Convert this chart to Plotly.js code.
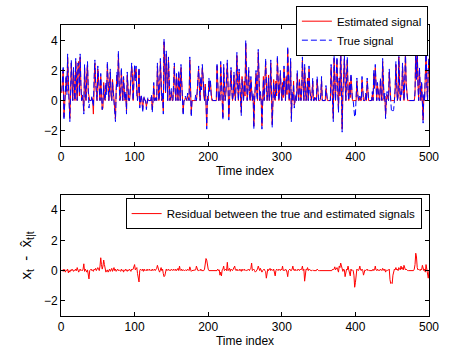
<!DOCTYPE html>
<html>
<head>
<meta charset="utf-8">
<script src="https://cdn.plot.ly/plotly-3.0.1.min.js"></script>
<style>html,body{margin:0;padding:0;background:#fff}#chart{width:474px;height:355px}</style>
</head>
<body>
<div id="chart"></div>
<script>
const trueSignal = [
0.6,1.4,2.3,-1.3,0,0.9,1.7,0.4,3.1,1.2,0,-1.4,0.5,2.7,1.1,0,2.2,0.6,0,2.8,
1.3,0,2.5,2.4,0.5,3.1,1.0,0,0.4,0,-0.9,2.4,0.7,0,1.5,2.6,0.8,-0.5,0,0,
0,0.3,0,-0.4,1.6,2.7,1.2,0.4,0,2.3,1.3,0.6,0,1.8,0.5,-0.6,0,1.0,0.3,0,
1.2,0.4,2.6,1.3,0,0.8,2.1,0.5,0,1.2,0.4,0,-0.5,-1.4,0.6,1.9,0.9,3.3,1.1,0,
0.3,2.2,0.8,0,1.6,0.4,0,0.6,-0.9,1.9,0.5,0,0,0.6,1.4,2.5,1.6,0,1.1,2.4,
1.3,2.3,0.4,0,0.7,2.2,-0.5,0,0.4,0,-0.8,0,0.3,0,0,-0.6,0,0.2,0,0,
0,0,0.4,-0.8,0,1.2,0,0,0.3,0,2.5,1.1,0,0.6,2.8,1.3,0,0.5,-0.9,4.1,
1.4,0.6,3.3,0.9,0,2.9,1.2,0,0.3,0.8,0,0,1.2,2.5,0.7,0,1.8,0.4,0,2.0,
0.6,0,2.4,0.8,0,-1.0,0,0,0.3,0,0,0.5,0,0,2.9,1.0,-1.1,0,0,0,
0,0,0.4,0,0.6,1.2,2.3,0.8,0,1.6,0.7,2.4,1.4,0.5,0,0.9,0,-1.9,0.3,0,
1.5,0.6,1.4,0.3,0,0,0,0,0,0,0,2.5,1.3,0,0.6,0,2.6,0.9,0,-1.3,
2.4,1.0,0,0.6,1.3,2.7,0.8,-1.3,0,1.1,2.2,0.7,0,0.5,1.9,0.4,0,1.2,3.2,1.0,
0,2.1,0.6,0,-1.0,1.4,0.3,0,1.1,0.5,4.0,1.3,0,0.7,2.2,0.4,0,1.6,0.3,0,
0.5,-1.9,0,0.8,2.0,0.4,0,3.4,1.0,0,0.6,0,-1.9,0.3,1.4,0,0.8,2.8,1.1,0,
0.4,1.5,0,0.6,2.7,0.9,-1.8,0,1.2,0.4,0,1.1,0.5,3.0,1.3,0,0.6,2.0,0.8,0,
1.0,0.4,2.3,0.7,0,1.4,0.6,3.6,1.2,0,0.8,2.8,-1.4,0.6,0,1.1,-0.5,0,0.4,0,
2.0,0.6,0,1.2,0.3,0,0.7,2.9,1.0,0,2.4,0.8,0,0.5,1.3,0,2.3,0.6,0,0,
0.4,1.5,0,0,0.3,0,0,1.6,0.2,0,0,0,0.4,1.6,0,0,0,0,0,1.0,
0,0,0,0,0,0,2.4,1.2,0,-1.4,3.0,0.9,0,1.6,2.9,0.6,-0.8,1.3,0.5,3.9,
1.4,-2.1,0.7,1.2,3.0,0.8,0,1.4,2.9,0.6,0,1.0,0.4,1.8,0.5,0,0,-0.8,-1.1,-1.0,
0,1.5,0.4,0,0,0.3,0,0,1.6,0.4,0,0,0,0.5,0,1.5,0.3,0,0,0,
0,0,0.6,0,2.0,0.8,2.4,0.5,0,1.2,0.4,0,0,1.5,0.4,0,2.8,1.1,0,0.5,
-1.2,0,0.6,0.3,0,2.1,0.5,0,-0.7,-0.6,-0.7,-0.6,0,0.8,2.6,1.0,0,0.4,3.1,1.1,
0,0.6,0.3,2.5,0.8,0,1.2,3.3,1.0,0,0,0,0,0,0,0,0,0,0,0,
0.6,3.6,1.4,3.7,0.9,0,2.2,0.6,0,1.3,0,-1.5,0.5,0,1.8,3.7,1.0,0,2.1,3.0
];

const estimatedSignal = [
0.5,1.6,2.1,-1.1,0,1.1,1.5,0.6,2.9,1.4,0,-1.2,0.4,2.5,1.3,0,2.0,0.8,0,2.6,
1.5,0,2.3,2.6,0.3,2.9,1.2,0,0.2,0,-0.7,2.2,0.9,0,1.7,2.4,0.6,0,0,0,
0,0.2,0,-0.9,1.4,2.5,1.4,0.3,0,2.1,1.5,0.4,0,1.6,0.7,-0.6,-0.5,1.2,0.2,0,
1.0,0.6,2.4,1.5,0,1.0,1.9,0.3,0,1.4,0.6,0,-0.4,-1.2,0.8,1.7,1.1,3.1,1.3,0,
0.2,2.0,1.0,0,1.4,0.6,0,0.4,-0.7,1.7,0.7,0,0,0.4,1.6,2.3,1.8,0,1.3,2.2,
1.5,2.1,0.6,0,0.9,2.0,-0.3,0,0.3,0,-0.6,0,0.2,0,0,-0.4,0,0.1,0,0,
0,0,0.3,-0.6,0,1.0,0,0,0.2,0,2.3,1.3,0,0.4,2.6,1.5,0,0.3,-0.7,3.9,
1.6,0.5,3.1,1.1,0,2.7,1.4,0,0.2,0.6,0,0,1.0,2.3,0.9,0,1.6,0.6,0,1.8,
0.4,0,2.2,1.0,0,-0.8,0,0,0.2,0,0,0.3,0,0,2.7,1.2,-0.9,0,0,0,
0,0,0,0,0.5,1.4,2.1,1.0,0,1.4,0.9,2.2,1.6,0.3,0,1.1,0,-1.7,0.2,0,
1.3,0.8,1.2,0.2,0,0,0,0,0,0,0,2.3,1.5,0,0.4,0,2.4,1.1,0,-1.1,
2.2,1.2,0,0.4,1.5,2.5,1.0,-1.1,0,1.3,2.0,0.9,0,0.3,1.7,0.6,0,1.4,3.0,1.2,
0,1.9,0.8,0,-0.8,1.6,0.2,0,1.3,0.3,3.8,1.5,0,0.9,2.0,0.6,0,1.4,0.5,0,
0.3,-1.7,0,1.0,1.8,0.6,0,3.2,1.2,0,0.4,0,-1.7,0.2,1.6,0,1.0,2.6,1.3,0,
0.3,1.7,0,0.4,2.5,1.1,-1.6,0,1.4,0.2,0,1.3,0.3,2.8,1.5,0,0.8,1.8,1.0,0,
1.2,0.2,2.1,0.9,0,1.6,0.4,3.4,1.4,0,1.0,2.6,-1.2,0.4,0,1.3,-0.3,0,0.3,0,
1.8,0.8,0,1.4,0.2,0,0.5,2.7,1.2,0,2.2,1.0,0,0.3,1.5,0,2.1,0.8,0,0,
0.3,1.3,0,0,0.2,0,0,1.4,0.1,0,0,0,0.3,1.4,0,0,0,0,0,0.8,
0,0,0,0,0,0,2.2,1.4,0,-1.2,2.8,1.1,0,1.8,2.7,0.8,-0.6,1.5,0.3,3.7,
1.6,-1.9,0.5,1.4,2.8,1.0,0,1.6,2.7,0.8,0,1.2,0.2,1.6,0.7,0,0,0,0,0,
0,1.3,0.6,0,0,0.2,0,0,1.4,0.6,0,0,0,0.4,0,1.3,0.5,0,0,0,
0,0,0.4,0,1.8,1.0,2.2,0.7,0,1.0,0.6,0,0,1.3,0.6,0,2.6,1.3,0,0.3,
-1.0,0,0.4,0.2,0,1.9,0.7,0,0,0,0,0,0,0.6,2.4,1.2,0,0.2,2.9,1.3,
0,0.4,0.5,2.3,1.0,0,1.0,3.1,1.2,0,0,0,0,0,0,0,0,0,0,0,
0.4,3.4,1.6,3.5,1.1,0,2.0,0.8,0,1.1,0,-1.3,0.3,0,1.6,3.5,1.2,0,1.9,2.8
];

const residual = [
0,0.05,-0.05,0.1,0,-0.1,0.05,0,0.1,-0.15,0,-0.1,0.05,0,0.1,0,-0.05,0.05,0,0.1,
0,0.2,0.05,-0.1,0,0.1,0,0.05,0,0.1,0.45,-0.05,0.1,0,-0.1,0.05,-0.2,-0.55,0,0.05,
0.1,0,0.05,-0.05,0.1,0.05,0.15,0,0.1,0.2,0.1,0,0.3,0.85,0.4,0.1,0.3,0.7,0.4,0.1,
-0.1,0,0.05,-0.1,0,0.1,-0.05,0.05,0.15,-0.05,0.1,0.2,0,0.1,-0.05,0.05,0.1,0,0.05,0,
-0.05,0.1,0,0.05,-0.1,0.05,0,0.1,0,-0.05,0.05,0,0.1,0,-0.05,0.1,0.05,0.1,0.2,0.4,
0.05,0.1,0.2,-0.2,-0.4,-0.75,0,0.1,0.05,0,0.1,-0.05,0.1,0,0.05,0,0.1,0,0.05,0.1,
0,0.05,0,0.1,0,0.05,0.1,0,0.05,0.15,0.35,0.1,0,-0.1,0.1,0.2,0,0.1,-0.2,-0.4,
-0.35,0,0.1,0,0.05,0.1,0,0.05,0,0.1,0.05,0,0.1,0.05,0,0.1,0,0.05,0.15,0,
0.3,0.05,0,0.1,0,0.05,0,0,0.05,0,0,0.1,0,0,0.25,0.05,-0.05,0,0,0,
0,0,0.05,0.3,0.05,0,0,0.05,0,0.1,0,0,0,0,0.1,0.4,0.8,0.7,0.3,0.1,
0,0,0,0,0,0,0,0,0,0.05,0,0,0.1,0,0.05,-0.3,-0.1,-0.35,0.05,0.1,
0.3,0,0.05,0.1,0,0.55,0,0.1,0.15,-0.05,0.1,0.05,0,0.1,0.2,0.3,0.05,0,0.1,0,
0.05,0,0.1,0,-0.05,0.1,0,0.05,0.1,0,0.05,0,0,0.05,0.1,0,0.1,0.15,0.5,0,
0.05,0.1,0,-0.1,-0.05,0,0.1,0.3,0.05,0,0.15,0.05,-0.1,0,0.05,0.1,0,-0.05,-0.5,0,
0.1,0,0.05,0.15,0,0.1,0.05,0,0.1,-0.1,-0.35,0,0.1,0.05,0,0.1,0.05,0,0.1,0.05,
0.3,0,0.05,0,0.1,0.05,-0.1,-0.4,0,0.05,0.1,0,0,0.1,0.3,0.05,0,0.1,0,0.05,
0,0.1,0.05,0,0.1,0.05,0.1,0.3,0,0.1,-0.7,0,0.1,0.05,0.2,0,0.1,0.05,0,0,
0,0.05,0,0,0.05,0,0,0.1,0,0,0,0,0,0.05,0,0,0,0,0,0,
0,0,0,0,0,0,0.05,0,0.1,0.05,0.1,0.25,0.05,0.1,0.2,0.05,-0.1,0.3,0.2,0.5,
0.25,0.1,-0.05,0.1,0.05,-0.4,0,0.1,0.05,0.3,0.05,-0.1,-0.35,0.1,0,0.05,0,-0.3,-1.1,-0.8,
-0.2,0.1,0.05,0,0.1,0.3,0.05,0,0.1,0,-0.3,0,0.05,0,0.05,0.1,0,0.05,0,0,
0,0.05,0,0.1,0,0.05,0.3,0.05,0,0.1,0,0.05,0,0.1,0.05,0,0.15,0.05,0,0.1,
-0.1,0,0.05,0,0.05,0.1,-0.6,-0.85,-0.8,-0.85,-0.3,0,0.1,0.05,0.2,0.05,0.1,0,0.2,0.1,
0.05,0.3,0.1,0.2,0.05,0.35,0.1,0.05,0.1,0,0,0,0,0,0,0,0,0,0,0.1,
0.4,1.15,0.9,0.2,0.05,0.1,0.05,0,0.1,0.05,0.35,0.1,0,0.1,-0.1,0.4,0.1,0.05,-0.5,0
];

const timeIndex = trueSignal.map((_, i) => i + 1);
const xTicks = [0, 100, 200, 300, 400, 500];
const yTicks = [-2, 0, 2, 4];

const FONT = 'Liberation Sans, Arial, Helvetica, sans-serif';
const FS = 11.5;

const traces = [
  {x: timeIndex, y: estimatedSignal, type: 'scatter', mode: 'lines', name: 'Estimated signal',
   line: {color: '#ff0000', width: 1}, xaxis: 'x', yaxis: 'y', legend: 'legend'},
  {x: timeIndex, y: trueSignal, type: 'scatter', mode: 'lines', name: 'True signal',
   line: {color: '#0000ff', width: 1, dash: '6px,3px'}, xaxis: 'x', yaxis: 'y', legend: 'legend'},
  {x: timeIndex, y: residual, type: 'scatter', mode: 'lines', name: 'Residual between the true and estimated signals',
   line: {color: '#ff0000', width: 1}, xaxis: 'x2', yaxis: 'y2', legend: 'legend2'}
];

function xAxis(anchor) {
  return {
    domain: [0, 1], range: [0, 500], anchor: anchor,
    tickmode: 'array', tickvals: xTicks, ticktext: xTicks.map(String),
    ticks: 'inside', ticklen: 4, tickcolor: '#000', mirror: 'allticks',
    showline: true, linecolor: '#000', linewidth: 1, showgrid: false, zeroline: false,
    tickfont: {family: FONT, size: FS + 0.5, color: '#000'},
    title: {text: 'Time index', font: {family: FONT, size: FS + 0.5, color: '#000'}, standoff: 3}
  };
}
function yAxis(anchor, domain, title) {
  const ax = {
    domain: domain, range: [-3, 5], anchor: anchor,
    tickmode: 'array', tickvals: yTicks, ticktext: yTicks.map(v => v < 0 ? '\u2212' + Math.abs(v) : String(v)),
    ticks: 'inside', ticklen: 4, tickcolor: '#000', mirror: 'allticks',
    showline: true, linecolor: '#000', linewidth: 1, showgrid: false, zeroline: false,
    tickfont: {family: FONT, size: FS + 0.5, color: '#000'}
  };
  if (title) ax.title = {text: title, font: {family: FONT, size: 15, color: '#000'}, standoff: 8};
  return ax;
}

const layout = {
  width: 474, height: 355,
  margin: {l: 61, r: 45, t: 0, b: 0},
  paper_bgcolor: '#fff', plot_bgcolor: '#fff',
  showlegend: true,
  xaxis: xAxis('y'),
  yaxis: yAxis('x', [0.5896, 0.9287]),
  xaxis2: xAxis('y2'),
  yaxis2: yAxis('x2', [0.1099, 0.4507], 'x<sub>t</sub>\u00a0\u00a0-\u00a0\u00a0x\u0302<sub>t|t</sub>'),
  legend: {x: 0.997, y: 0.984, xanchor: 'right', yanchor: 'top', bgcolor: '#fff',
    bordercolor: '#000', borderwidth: 1, font: {family: FONT, size: FS, color: '#000'},
    tracegroupgap: 0, itemwidth: 30},
  legend2: {x: 0.98, y: 0.442, xanchor: 'right', yanchor: 'top', bgcolor: '#fff',
    bordercolor: '#000', borderwidth: 1, font: {family: FONT, size: FS, color: '#000'},
    itemwidth: 30}
};

Plotly.newPlot('chart', traces, layout, {displayModeBar: false, staticPlot: true});
</script>
</body>
</html>
